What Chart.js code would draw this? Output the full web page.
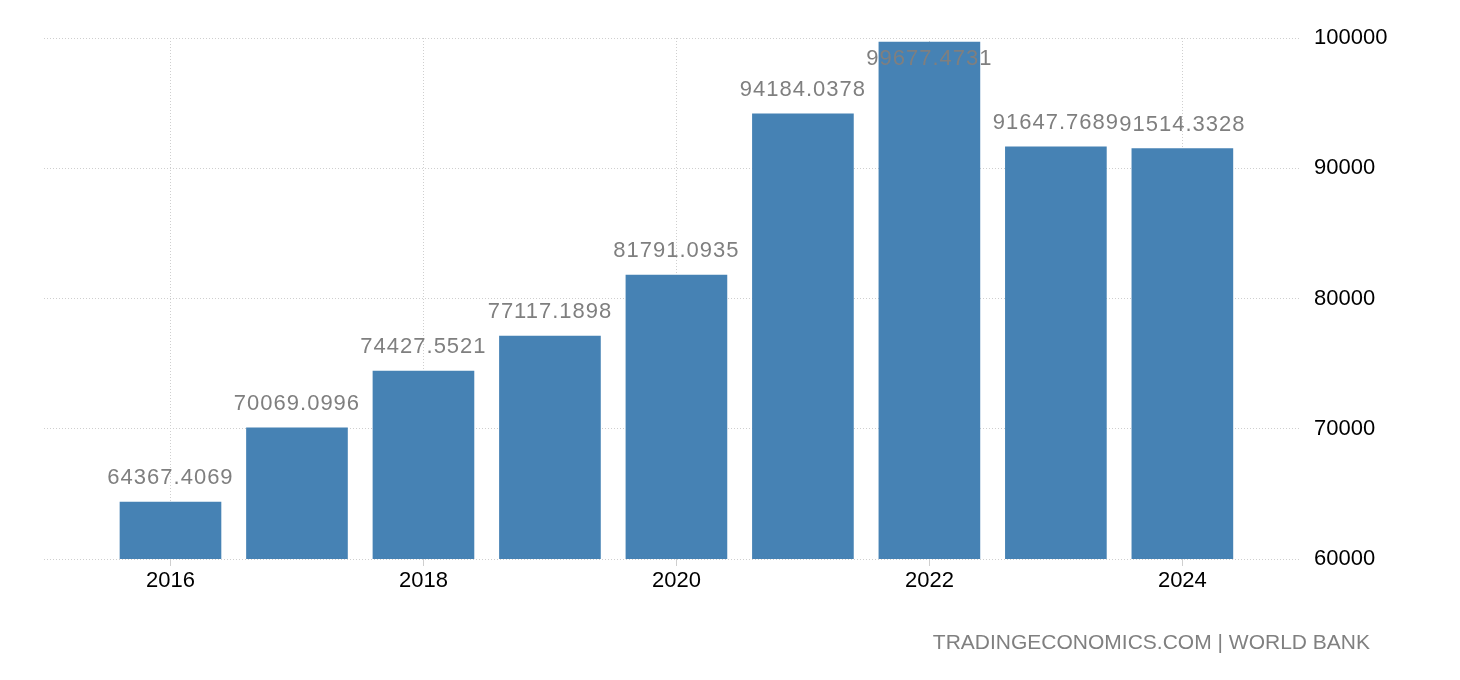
<!DOCTYPE html>
<html>
<head>
<meta charset="utf-8">
<script src="https://cdn.jsdelivr.net/npm/chart.js@4.4.1/dist/chart.umd.min.js"></script>
<style>
  html, body { margin: 0; padding: 0; background: #fff; }
  canvas { display: block; }
</style>
</head>
<body>
<canvas id="chart" width="1460" height="680"></canvas>
<script>
const years = [2016, 2017, 2018, 2019, 2020, 2021, 2022, 2023, 2024]
const values = [64367.4069, 70069.0996, 74427.5521, 77117.1898, 81791.0935, 94184.0378, 99677.4731, 91647.7689, 91514.3328]
const yearTicks = [2016, 2018, 2020, 2022, 2024]
const valueTicks = [60000, 70000, 80000, 90000, 100000]
const source = 'TRADINGECONOMICS.COM | WORLD BANK'

const FONT = '"Liberation Sans", Arial, sans-serif'

// value labels above the bars, pushed inside when they'd hit the top
const barLabels = {
  id: 'barLabels',
  afterDatasetsDraw(chart) {
    const ctx = chart.ctx
    const meta = chart.getDatasetMeta(0)
    ctx.save()
    ctx.font = '22px ' + FONT
    ctx.letterSpacing = '1px'
    ctx.fillStyle = '#7f7f7f'
    ctx.textAlign = 'center'
    ctx.textBaseline = 'middle'
    meta.data.forEach((bar, i) => {
      const y = Math.max(bar.y - 24, chart.chartArea.top + 21)
      ctx.fillText(values[i].toFixed(4), bar.x, y)
    })
    ctx.restore()
  }
}

const sourceNote = {
  id: 'sourceNote',
  afterDraw(chart) {
    const ctx = chart.ctx
    ctx.save()
    ctx.font = '21px ' + FONT
    ctx.fillStyle = '#808080'
    ctx.textAlign = 'right'
    ctx.textBaseline = 'middle'
    ctx.fillText(source, 1370, 643)
    ctx.restore()
  }
}

new Chart(document.getElementById('chart'), {
  type: 'bar',
  data: {
    datasets: [{
      data: years.map((y, i) => ({ x: y, y: values[i] })),
      backgroundColor: '#4682b4',
      barThickness: 101
    }]
  },
  options: {
    responsive: false,
    animation: false,
    layout: { padding: { left: 44, top: 38, right: 0, bottom: 0 } },
    plugins: { legend: { display: false }, tooltip: { enabled: false } },
    scales: {
      x: {
        type: 'linear',
        offset: false,
        min: 2015,
        max: 2024.93,
        afterBuildTicks: scale => { scale.ticks = yearTicks.map(v => ({ value: v })) },
        afterFit: scale => { scale.height = 121 },
        grid: { color: '#cfcfcf', tickColor: '#cfcfcf', tickLength: 7, offset: false },
        border: { display: false, dash: [1, 2] },
        ticks: { color: '#000', font: { family: FONT, size: 22 }, padding: 2, callback: v => String(v) }
      },
      y: {
        position: 'right',
        min: 60000,
        max: 100000,
        afterBuildTicks: scale => { scale.ticks = valueTicks.map(v => ({ value: v })) },
        afterFit: scale => { scale.width = 160 },
        grid: { color: '#cfcfcf', drawTicks: false },
        border: { display: false, dash: [1, 2] },
        ticks: { color: '#000', font: { family: FONT, size: 22 }, padding: 14, callback: v => String(v) }
      }
    }
  },
  plugins: [barLabels, sourceNote]
})
</script>
</body>
</html>
